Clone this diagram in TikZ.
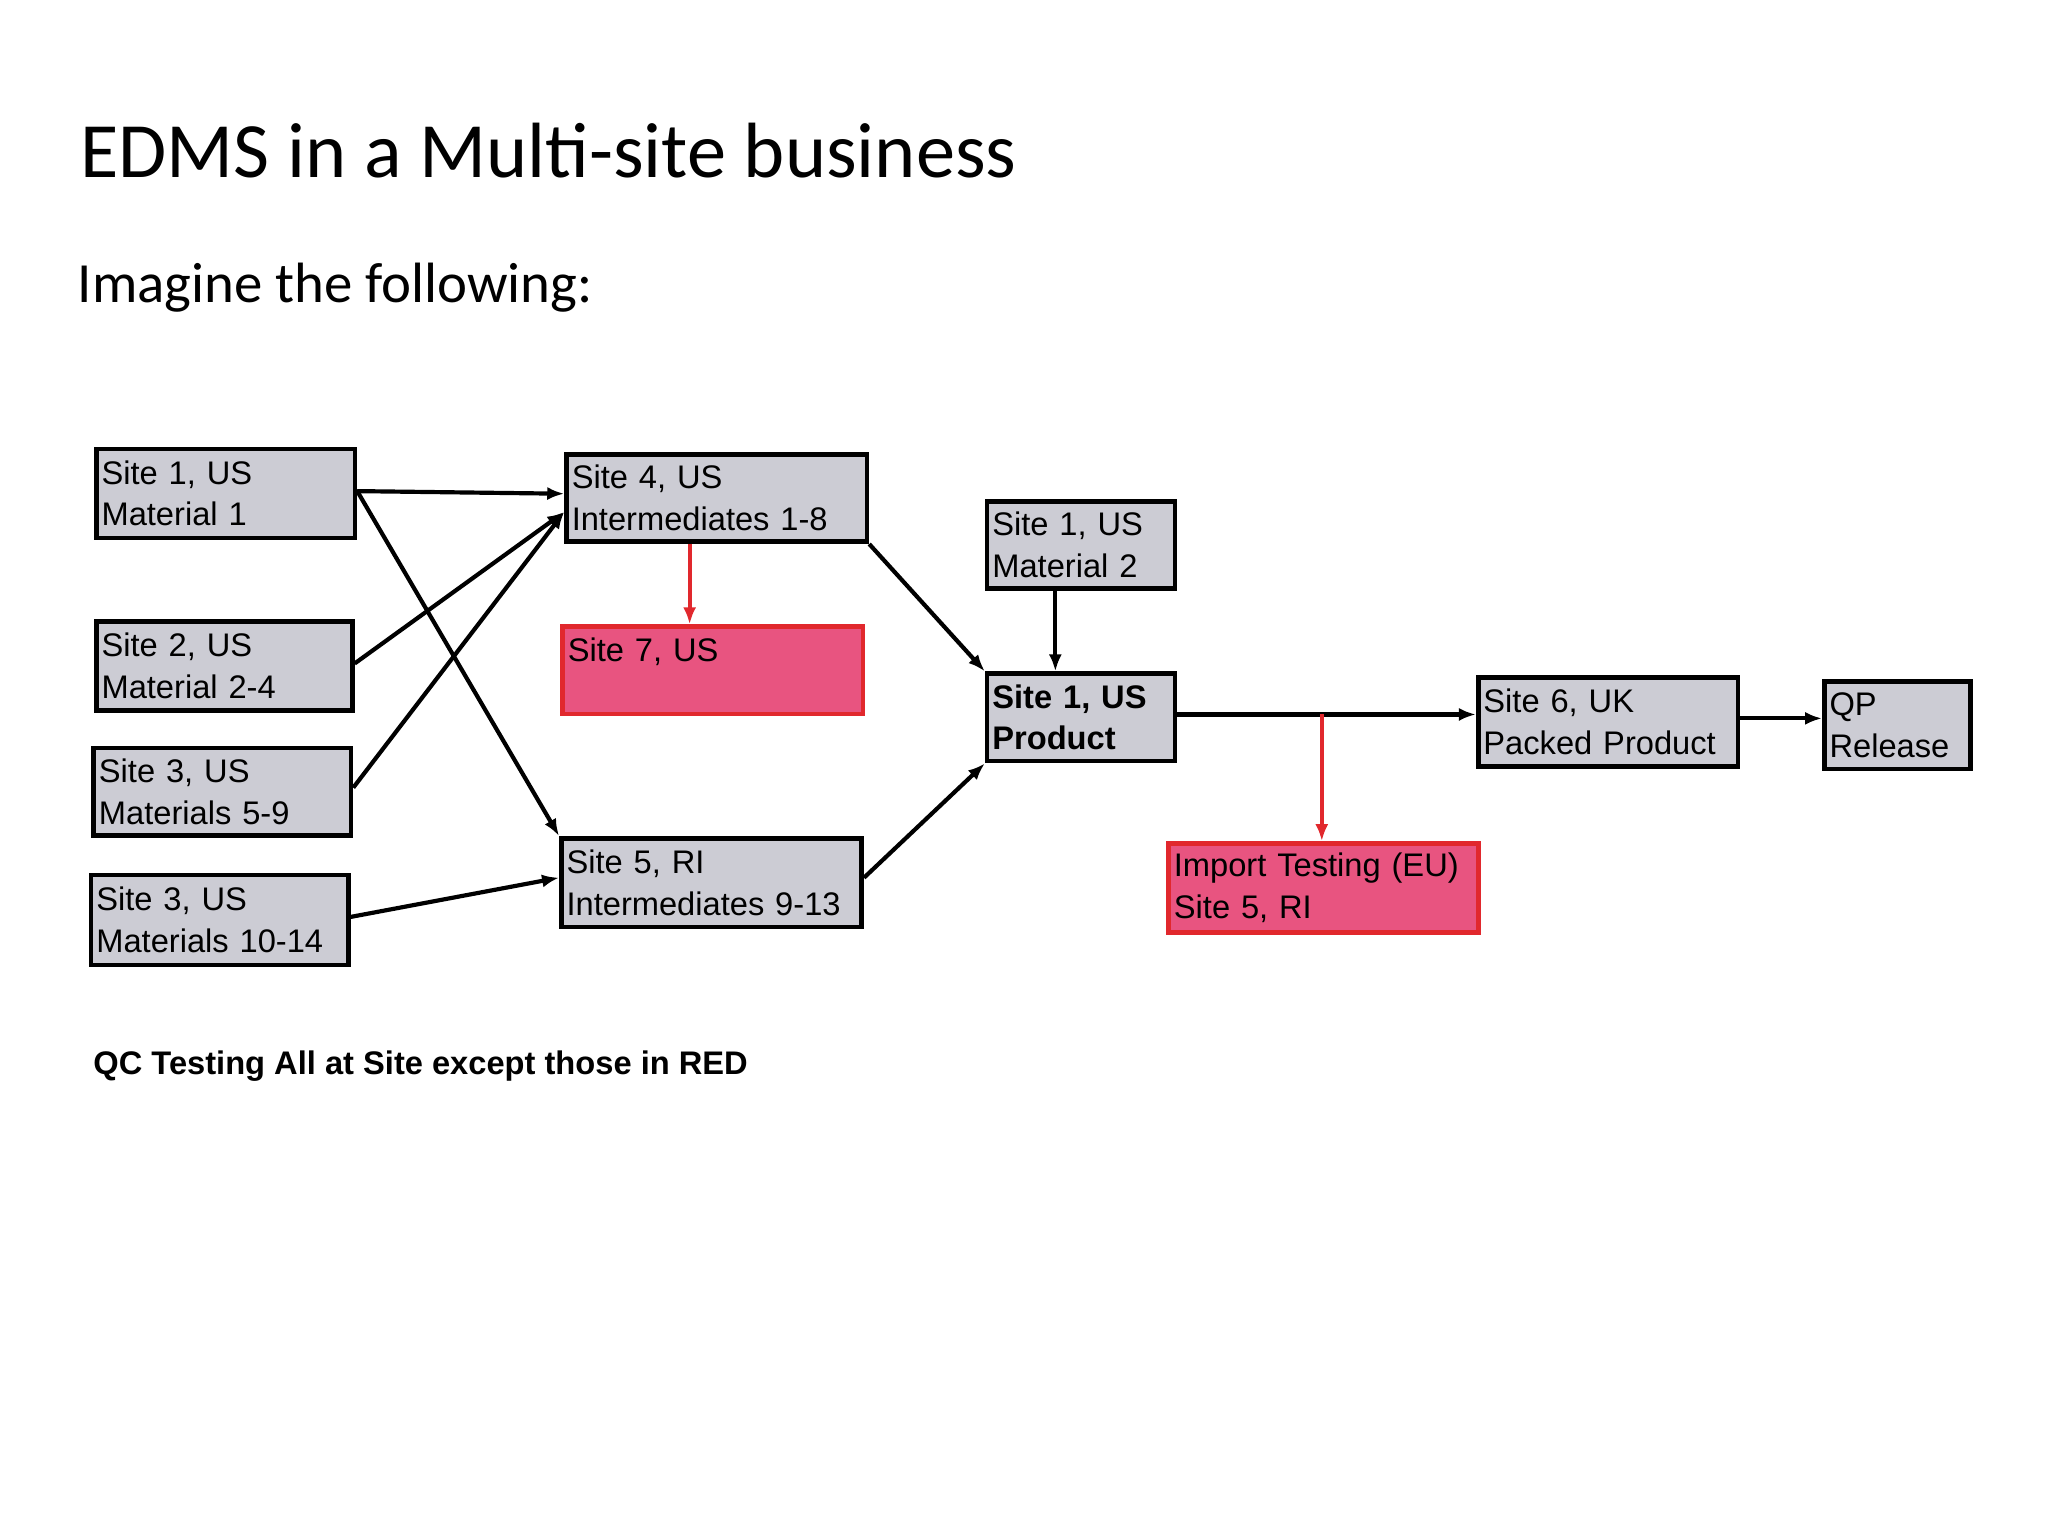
\documentclass[tikz,border=0pt]{standalone}
\usepackage{fontspec}
\setmainfont{Liberation Sans}
\newfontfamily\calfont{Carlito}
\usetikzlibrary{arrows.meta}
\definecolor{boxgray}{RGB}{204,204,212}
\definecolor{redfill}{RGB}{232,84,128}
\definecolor{redline}{RGB}{225,40,45}
\tikzset{
 box/.style={draw=black,line width=3.5pt,fill=boxgray,anchor=north west,align=left,inner xsep=4pt,inner ysep=2pt,font=\fontsize{25}{32}\selectfont},
 redbox/.style={box,draw=redline,fill=redfill},
 arr/.style={-{Latex[length=13pt,width=10pt]},line width=3.2pt},
 rarr/.style={arr,draw=redline,-{Latex[length=13pt,width=10pt,fill=redline]}}
}
\begin{document}
\begin{tikzpicture}[x=1pt,y=-1pt]
\useasboundingbox (0,0) rectangle (1568,1176);
\node[anchor=west,font=\calfont\fontsize{60}{66}\selectfont] (t) at (58,115) {EDMS in a Multi-site business};
\node[anchor=west,font=\calfont\fontsize{43.5}{48}\selectfont] (st) at (56,220) {Imagine the following:};
\node[box,text width=190,minimum height=68] (a) at (72,342) {Site 1, US\\Material 1};
\node[box,text width=188,minimum height=68] (b) at (72,474) {Site 2, US\\Material 2-4};
\node[box,text width=189,minimum height=67] (c) at (70,571) {Site 3, US\\Materials 5-9};
\node[box,text width=189,minimum height=69] (d) at (68,668) {Site 3, US\\Materials 10-14};
\node[box,text width=222,minimum height=67] (s4) at (432,346) {Site 4, US\\Intermediates 1-8};
\node[redbox,text width=222,minimum height=67] (s7) at (429,478) {Site 7, US\\\phantom{X}};
\node[box,text width=222,minimum height=68] (s5) at (428,640) {Site 5, RI\\Intermediates 9-13};
\node[box,text width=136,minimum height=67] (m2) at (754,382) {Site 1, US\\Material 2};
\node[box,text width=136,minimum height=67,font=\bfseries\fontsize{25}{32}\selectfont] (p) at (754,514) {Site 1, US\\Product};
\node[redbox,text width=229,minimum height=68] (imp) at (893,644) {Import Testing (EU)\\Site 5, RI};
\node[box,text width=191,minimum height=68] (s6) at (1130,517) {Site 6, UK\\Packed Product};
\node[box,text width=104,minimum height=67] (qp) at (1395,520) {QP\\Release};
\node[anchor=west,font=\bfseries\fontsize{25}{28}\selectfont] (qc) at (68,816) {QC Testing All at Site except those in RED};
\draw[arr] (a.east|-0,376) -- (s4.west|-0,378);
\draw[arr] (a.east|-0,376) -- (s5.north west);
\draw[arr] (b.east|-0,508) -- (s4.west|-0,392);
\draw[arr] (c.east|-0,603) -- (s4.west|-0,392);
\draw[arr] (d.east|-0,702) -- (s5.west|-0,672);
\draw[rarr] (s4.south-|528,0) -- (s7.north-|528,0);
\draw[arr] (s4.south east) -- (p.north west);
\draw[arr] (s5.east|-0,672) -- (p.south west);
\draw[arr] (m2.south-|808,0) -- (p.north-|808,0);
\coordinate (br) at (1012,547);
\draw[arr] (p.east|-0,547) -- (s6.west|-0,547);
\draw[rarr] (br) -- (imp.north-|br);
\draw[arr] (s6.east|-0,550) -- (qp.west|-0,550);
\end{tikzpicture}
\end{document}
